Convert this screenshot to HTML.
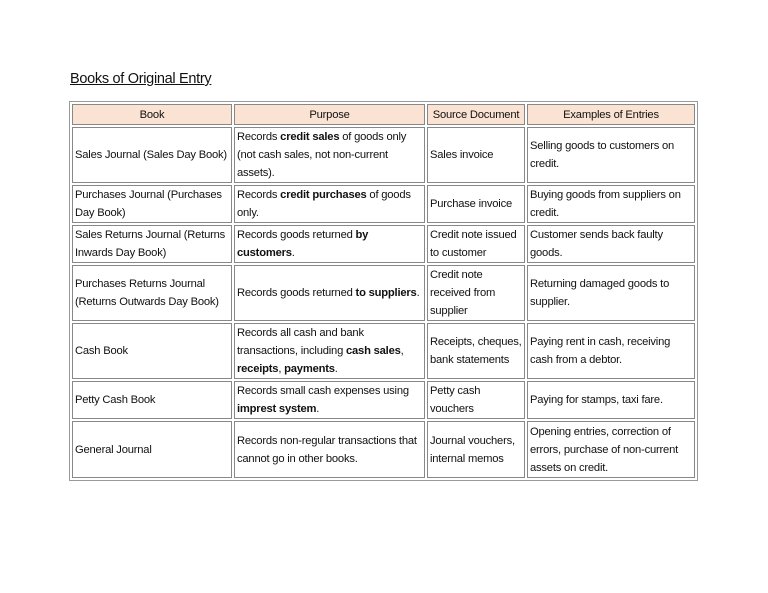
<!DOCTYPE html>
<html><head><meta charset="utf-8"><style>
body{margin:0;width:768px;height:593px;background:#fff;font-family:"Liberation Sans",sans-serif;color:#111;position:relative;overflow:hidden}
h1{position:absolute;left:70px;top:71px;margin:0;font-size:14.5px;font-weight:normal;text-decoration:underline;letter-spacing:-0.3px}
table{position:absolute;left:69px;top:101px;width:629px;border:1px solid #999;border-collapse:separate;border-spacing:2px;table-layout:fixed;font-size:11.2px;letter-spacing:-0.2px;line-height:18px;white-space:nowrap}
td,th{border:1px solid #888;padding:0 1px 0 2px;vertical-align:middle;text-align:left;overflow:hidden}
th{background:#fbe3d3;font-weight:normal;text-align:center;height:19px;padding:0}
b{font-weight:bold}
</style></head><body>
<h1>Books of Original Entry</h1>
<table>
<colgroup><col style="width:160px"><col style="width:191px"><col style="width:98px"><col></colgroup>
<tr><th>Book</th><th>Purpose</th><th>Source Document</th><th>Examples of Entries</th></tr>
<tr style="height:55px"><td>Sales Journal (Sales Day Book)</td><td>Records <b>credit sales</b> of goods only<br>(not cash sales, not non-current<br>assets).</td><td>Sales invoice</td><td>Selling goods to customers on<br>credit.</td></tr>
<tr style="height:37px"><td>Purchases Journal (Purchases<br>Day Book)</td><td>Records <b>credit purchases</b> of goods<br>only.</td><td>Purchase invoice</td><td>Buying goods from suppliers on<br>credit.</td></tr>
<tr style="height:37px"><td>Sales Returns Journal (Returns<br>Inwards Day Book)</td><td>Records goods returned <b>by</b><br><b>customers</b>.</td><td>Credit note issued<br>to customer</td><td>Customer sends back faulty<br>goods.</td></tr>
<tr style="height:55px"><td>Purchases Returns Journal<br>(Returns Outwards Day Book)</td><td>Records goods returned <b>to suppliers</b>.</td><td>Credit note<br>received from<br>supplier</td><td>Returning damaged goods to<br>supplier.</td></tr>
<tr style="height:55px"><td>Cash Book</td><td>Records all cash and bank<br>transactions, including <b>cash sales</b>,<br><b>receipts</b>, <b>payments</b>.</td><td>Receipts, cheques,<br>bank statements</td><td>Paying rent in cash, receiving<br>cash from a debtor.</td></tr>
<tr style="height:37px"><td>Petty Cash Book</td><td>Records small cash expenses using<br><b>imprest system</b>.</td><td>Petty cash<br>vouchers</td><td>Paying for stamps, taxi fare.</td></tr>
<tr style="height:57px"><td>General Journal</td><td>Records non-regular transactions that<br>cannot go in other books.</td><td>Journal vouchers,<br>internal memos</td><td>Opening entries, correction of<br>errors, purchase of non-current<br>assets on credit.</td></tr>
</table>
</body></html>
